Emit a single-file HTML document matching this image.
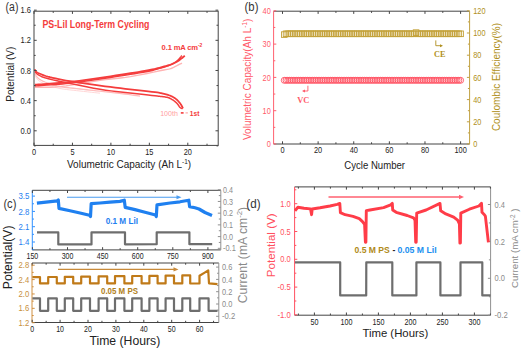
<!DOCTYPE html>
<html><head><meta charset="utf-8"><style>
html,body{margin:0;padding:0;background:#fff;}
svg{display:block;}
</style></head><body>
<svg width="524" height="349" viewBox="0 0 524 349">
<rect width="524" height="349" fill="#fff"/>
<polyline points="34.80,73.50 35.10,74.00 35.49,74.69 35.96,75.50 36.53,76.37 37.21,77.23 38.00,78.00 38.85,78.69 39.76,79.35 40.76,80.00 41.93,80.65 43.33,81.31 45.00,82.00 46.98,82.74 49.22,83.54 51.69,84.34 54.33,85.13 57.12,85.86 60.00,86.50 63.04,87.04 66.30,87.49 69.69,87.89 73.15,88.26 76.61,88.62 80.00,89.00 83.28,89.38 86.48,89.73 89.69,90.08 92.96,90.43 96.38,90.80 100.00,91.20 103.99,91.64 108.33,92.11 112.81,92.60 117.22,93.09 121.35,93.56 125.00,94.00 128.25,94.43 131.30,94.86 134.06,95.28 136.48,95.65 138.48,95.97 140.00,96.20" fill="none" stroke="#ffbcbc" stroke-width="1.3" stroke-linejoin="round" />
<polyline points="34.80,75.50 35.10,76.00 35.49,76.69 35.96,77.50 36.53,78.37 37.21,79.23 38.00,80.00 38.85,80.69 39.76,81.35 40.76,82.00 41.93,82.65 43.33,83.31 45.00,84.00 46.98,84.74 49.22,85.54 51.69,86.34 54.33,87.13 57.12,87.86 60.00,88.50 63.04,89.04 66.30,89.49 69.69,89.89 73.15,90.26 76.61,90.62 80.00,91.00 83.56,91.41 87.41,91.84 91.25,92.26 94.81,92.64 97.82,92.96 100.00,93.20" fill="none" stroke="#ffd8d8" stroke-width="1.0" stroke-linejoin="round" />
<polyline points="34.80,87.20 37.37,87.20 40.79,87.25 44.90,87.29 49.57,87.24 54.65,87.03 60.00,86.60 65.92,85.86 72.59,84.86 79.67,83.70 86.82,82.50 93.71,81.36 100.00,80.40 105.63,79.65 110.87,79.04 115.84,78.49 120.69,77.95 125.53,77.34 130.50,76.60 135.82,75.67 141.43,74.59 147.03,73.44 152.35,72.31 157.10,71.31 161.00,70.50 163.89,69.95 165.96,69.59 167.47,69.34 168.65,69.13 169.74,68.87 171.00,68.50 172.38,67.98 173.67,67.39 174.88,66.74 176.00,66.10 177.04,65.51 178.00,65.00 178.89,64.57 179.70,64.18 180.44,63.83 181.07,63.53 181.60,63.29 182.00,63.10" fill="none" stroke="#ffb4b4" stroke-width="1.4" stroke-linejoin="round" />
<polyline points="34.80,71.50 35.10,71.84 35.49,72.30 35.96,72.85 36.53,73.44 37.21,74.04 38.00,74.60 38.85,75.12 39.76,75.64 40.76,76.17 41.93,76.70 43.33,77.24 45.00,77.80 46.75,78.33 48.48,78.81 50.44,79.31 52.85,79.87 55.96,80.55 60.00,81.40 65.34,82.52 71.85,83.87 79.06,85.34 86.48,86.82 93.62,88.18 100.00,89.30 105.64,90.17 110.93,90.88 115.94,91.47 120.74,91.99 125.41,92.48 130.00,93.00 134.66,93.54 139.37,94.07 143.94,94.58 148.19,95.05 151.93,95.46 155.00,95.80 157.22,96.05 158.71,96.21 159.69,96.32 160.41,96.40 161.11,96.48 162.00,96.60 163.07,96.73 164.13,96.86 165.16,96.99 166.14,97.14 167.06,97.30 167.90,97.50 168.64,97.73 169.28,97.99 169.86,98.27 170.41,98.57 170.94,98.88 171.50,99.20 172.07,99.53 172.64,99.88 173.21,100.24 173.76,100.62 174.29,101.00 174.80,101.40 175.29,101.80 175.75,102.21 176.20,102.63 176.64,103.06 177.07,103.52 177.50,104.00 177.93,104.54 178.34,105.15 178.76,105.78 179.17,106.39 179.58,106.94 180.00,107.40 180.46,107.77 180.96,108.07 181.46,108.31 181.92,108.51 182.32,108.67 182.60,108.80" fill="none" stroke="#f43c3c" stroke-width="1.5" stroke-linejoin="round" />
<polyline points="34.80,69.20 34.90,69.45 35.01,69.80 35.15,70.21 35.35,70.65 35.62,71.09 36.00,71.50 36.44,71.87 36.90,72.23 37.45,72.58 38.12,72.95 38.95,73.35 40.00,73.80 41.20,74.30 42.52,74.83 44.00,75.39 45.70,75.98 47.69,76.59 50.00,77.20 52.64,77.83 55.56,78.47 58.75,79.14 62.22,79.81 65.97,80.50 70.00,81.20 74.42,81.92 79.26,82.66 84.38,83.41 89.63,84.16 94.88,84.90 100.00,85.60 105.06,86.28 110.19,86.95 115.31,87.60 120.37,88.23 125.29,88.83 130.00,89.40 134.66,89.94 139.37,90.47 143.94,90.96 148.19,91.42 151.93,91.84 155.00,92.20 157.22,92.49 158.70,92.71 159.69,92.88 160.41,93.04 161.10,93.20 162.00,93.40 163.07,93.63 164.11,93.86 165.12,94.09 166.11,94.34 167.07,94.61 168.00,94.90 168.91,95.21 169.79,95.54 170.65,95.89 171.47,96.25 172.26,96.62 173.00,97.00 173.69,97.39 174.35,97.80 174.96,98.22 175.54,98.65 176.09,99.08 176.60,99.50 177.08,99.92 177.51,100.34 177.91,100.76 178.28,101.17 178.64,101.59 179.00,102.00 179.34,102.39 179.66,102.75 179.97,103.11 180.27,103.49 180.58,103.91 180.90,104.40 181.26,105.01 181.66,105.73 182.07,106.50 182.45,107.23 182.77,107.86 183.00,108.30" fill="none" stroke="#f43c3c" stroke-width="1.75" stroke-linejoin="round" />
<polyline points="34.80,86.00 36.40,85.89 38.56,85.74 41.15,85.56 44.01,85.35 47.01,85.13 50.00,84.90 52.94,84.68 55.94,84.47 59.08,84.24 62.41,83.97 66.03,83.63 70.00,83.20 74.42,82.65 79.24,82.00 84.34,81.28 89.59,80.52 94.86,79.75 100.00,79.00 105.18,78.24 110.54,77.45 115.91,76.65 121.13,75.86 126.05,75.10 130.50,74.40 134.48,73.76 138.13,73.16 141.47,72.60 144.54,72.06 147.37,71.53 150.00,71.00 152.37,70.47 154.44,69.94 156.28,69.43 157.94,68.93 159.50,68.45 161.00,68.00 162.41,67.59 163.67,67.23 164.81,66.89 165.89,66.55 166.94,66.19 168.00,65.80 169.08,65.38 170.13,64.94 171.16,64.48 172.15,64.01 173.10,63.51 174.00,63.00 174.85,62.46 175.66,61.90 176.42,61.33 177.14,60.73 177.84,60.12 178.50,59.50 179.16,58.82 179.81,58.06 180.43,57.28 180.99,56.56 181.45,55.94 181.80,55.50" fill="none" stroke="#f43c3c" stroke-width="1.4" stroke-linejoin="round" />
<polyline points="34.80,84.80 36.40,84.69 38.56,84.54 41.15,84.36 44.01,84.15 47.01,83.93 50.00,83.70 52.94,83.48 55.94,83.27 59.08,83.04 62.41,82.77 66.03,82.43 70.00,82.00 74.42,81.46 79.24,80.83 84.34,80.13 89.59,79.39 94.86,78.64 100.00,77.90 105.18,77.15 110.54,76.36 115.91,75.55 121.13,74.76 126.05,74.00 130.50,73.30 134.48,72.67 138.13,72.08 141.47,71.52 144.54,71.00 147.37,70.49 150.00,70.00 152.35,69.53 154.37,69.08 156.16,68.66 157.80,68.24 159.38,67.83 161.00,67.40 162.65,66.97 164.24,66.54 165.79,66.11 167.27,65.68 168.67,65.24 170.00,64.80 171.24,64.35 172.39,63.90 173.48,63.44 174.50,62.97 175.47,62.49 176.40,62.00 177.28,61.49 178.10,60.96 178.86,60.41 179.59,59.87 180.30,59.33 181.00,58.80 181.72,58.25 182.47,57.67 183.19,57.10 183.84,56.57 184.40,56.12 184.80,55.80" fill="none" stroke="#f43c3c" stroke-width="1.9" stroke-linejoin="round" />
<rect x="34.0" y="11.2" width="184.2" height="134.20000000000002" fill="none" stroke="#444444" stroke-width="1"/>
<line x1="34.00" y1="145.40" x2="34.00" y2="142.70" stroke="#444444" stroke-width="1"/>
<line x1="34.00" y1="11.20" x2="34.00" y2="13.90" stroke="#444444" stroke-width="1"/>
<line x1="53.23" y1="145.40" x2="53.23" y2="143.70" stroke="#444444" stroke-width="1"/>
<line x1="53.23" y1="11.20" x2="53.23" y2="12.90" stroke="#444444" stroke-width="1"/>
<line x1="72.45" y1="145.40" x2="72.45" y2="142.70" stroke="#444444" stroke-width="1"/>
<line x1="72.45" y1="11.20" x2="72.45" y2="13.90" stroke="#444444" stroke-width="1"/>
<line x1="91.68" y1="145.40" x2="91.68" y2="143.70" stroke="#444444" stroke-width="1"/>
<line x1="91.68" y1="11.20" x2="91.68" y2="12.90" stroke="#444444" stroke-width="1"/>
<line x1="110.90" y1="145.40" x2="110.90" y2="142.70" stroke="#444444" stroke-width="1"/>
<line x1="110.90" y1="11.20" x2="110.90" y2="13.90" stroke="#444444" stroke-width="1"/>
<line x1="130.12" y1="145.40" x2="130.12" y2="143.70" stroke="#444444" stroke-width="1"/>
<line x1="130.12" y1="11.20" x2="130.12" y2="12.90" stroke="#444444" stroke-width="1"/>
<line x1="149.35" y1="145.40" x2="149.35" y2="142.70" stroke="#444444" stroke-width="1"/>
<line x1="149.35" y1="11.20" x2="149.35" y2="13.90" stroke="#444444" stroke-width="1"/>
<line x1="168.58" y1="145.40" x2="168.58" y2="143.70" stroke="#444444" stroke-width="1"/>
<line x1="168.58" y1="11.20" x2="168.58" y2="12.90" stroke="#444444" stroke-width="1"/>
<line x1="187.80" y1="145.40" x2="187.80" y2="142.70" stroke="#444444" stroke-width="1"/>
<line x1="187.80" y1="11.20" x2="187.80" y2="13.90" stroke="#444444" stroke-width="1"/>
<line x1="207.03" y1="145.40" x2="207.03" y2="143.70" stroke="#444444" stroke-width="1"/>
<line x1="207.03" y1="11.20" x2="207.03" y2="12.90" stroke="#444444" stroke-width="1"/>
<line x1="34.00" y1="145.88" x2="35.70" y2="145.88" stroke="#444444" stroke-width="1"/>
<line x1="218.20" y1="145.88" x2="216.50" y2="145.88" stroke="#444444" stroke-width="1"/>
<line x1="34.00" y1="130.80" x2="36.70" y2="130.80" stroke="#444444" stroke-width="1"/>
<line x1="218.20" y1="130.80" x2="215.50" y2="130.80" stroke="#444444" stroke-width="1"/>
<line x1="34.00" y1="115.72" x2="35.70" y2="115.72" stroke="#444444" stroke-width="1"/>
<line x1="218.20" y1="115.72" x2="216.50" y2="115.72" stroke="#444444" stroke-width="1"/>
<line x1="34.00" y1="100.64" x2="36.70" y2="100.64" stroke="#444444" stroke-width="1"/>
<line x1="218.20" y1="100.64" x2="215.50" y2="100.64" stroke="#444444" stroke-width="1"/>
<line x1="34.00" y1="85.56" x2="35.70" y2="85.56" stroke="#444444" stroke-width="1"/>
<line x1="218.20" y1="85.56" x2="216.50" y2="85.56" stroke="#444444" stroke-width="1"/>
<line x1="34.00" y1="70.48" x2="36.70" y2="70.48" stroke="#444444" stroke-width="1"/>
<line x1="218.20" y1="70.48" x2="215.50" y2="70.48" stroke="#444444" stroke-width="1"/>
<line x1="34.00" y1="55.40" x2="35.70" y2="55.40" stroke="#444444" stroke-width="1"/>
<line x1="218.20" y1="55.40" x2="216.50" y2="55.40" stroke="#444444" stroke-width="1"/>
<line x1="34.00" y1="40.32" x2="36.70" y2="40.32" stroke="#444444" stroke-width="1"/>
<line x1="218.20" y1="40.32" x2="215.50" y2="40.32" stroke="#444444" stroke-width="1"/>
<line x1="34.00" y1="25.24" x2="35.70" y2="25.24" stroke="#444444" stroke-width="1"/>
<line x1="218.20" y1="25.24" x2="216.50" y2="25.24" stroke="#444444" stroke-width="1"/>
<line x1="34.00" y1="10.16" x2="36.70" y2="10.16" stroke="#444444" stroke-width="1"/>
<line x1="218.20" y1="10.16" x2="215.50" y2="10.16" stroke="#444444" stroke-width="1"/>
<text x="31.00" y="13.26" font-size="9.0" fill="#222" text-anchor="end" font-weight="normal" font-family='"Liberation Sans", sans-serif' textLength="10.5" lengthAdjust="spacingAndGlyphs" >1.6</text>
<text x="31.00" y="43.42" font-size="9.0" fill="#222" text-anchor="end" font-weight="normal" font-family='"Liberation Sans", sans-serif' textLength="10.5" lengthAdjust="spacingAndGlyphs" >1.2</text>
<text x="31.00" y="73.58" font-size="9.0" fill="#222" text-anchor="end" font-weight="normal" font-family='"Liberation Sans", sans-serif' textLength="10.5" lengthAdjust="spacingAndGlyphs" >0.8</text>
<text x="31.00" y="103.74" font-size="9.0" fill="#222" text-anchor="end" font-weight="normal" font-family='"Liberation Sans", sans-serif' textLength="10.5" lengthAdjust="spacingAndGlyphs" >0.4</text>
<text x="31.00" y="133.90" font-size="9.0" fill="#222" text-anchor="end" font-weight="normal" font-family='"Liberation Sans", sans-serif' textLength="10.5" lengthAdjust="spacingAndGlyphs" >0.0</text>
<text x="34.00" y="155.00" font-size="9.0" fill="#222" text-anchor="middle" font-weight="normal" font-family='"Liberation Sans", sans-serif' textLength="4.1" lengthAdjust="spacingAndGlyphs" >0</text>
<text x="72.45" y="155.00" font-size="9.0" fill="#222" text-anchor="middle" font-weight="normal" font-family='"Liberation Sans", sans-serif' textLength="4.1" lengthAdjust="spacingAndGlyphs" >5</text>
<text x="110.90" y="155.00" font-size="9.0" fill="#222" text-anchor="middle" font-weight="normal" font-family='"Liberation Sans", sans-serif' textLength="8.2" lengthAdjust="spacingAndGlyphs" >10</text>
<text x="149.35" y="155.00" font-size="9.0" fill="#222" text-anchor="middle" font-weight="normal" font-family='"Liberation Sans", sans-serif' textLength="8.2" lengthAdjust="spacingAndGlyphs" >15</text>
<text x="187.80" y="155.00" font-size="9.0" fill="#222" text-anchor="middle" font-weight="normal" font-family='"Liberation Sans", sans-serif' textLength="8.2" lengthAdjust="spacingAndGlyphs" >20</text>
<text x="67.00" y="168.20" font-size="10" fill="#222" text-anchor="start" font-weight="normal" font-family='"Liberation Sans", sans-serif' >Volumetric Capacity (Ah L<tspan dy="-4" font-size="6.5">-1</tspan><tspan dy="4">)</tspan></text>
<text x="13.80" y="74.20" font-size="10" fill="#222" text-anchor="middle" font-weight="normal" font-family='"Liberation Sans", sans-serif' transform="rotate(-90 13.80 74.20)" >Potential (V)</text>
<text x="5.60" y="10.90" font-size="12.5" fill="#333" text-anchor="start" font-weight="normal" font-family='"Liberation Sans", sans-serif' textLength="12.8" lengthAdjust="spacingAndGlyphs" >(a)</text>
<text x="42.40" y="27.80" font-size="10.2" fill="#f43c3c" text-anchor="start" font-weight="bold" font-family='"Liberation Sans", sans-serif' textLength="107" lengthAdjust="spacingAndGlyphs" >PS-LiI Long-Term Cycling</text>
<text x="161.60" y="49.80" font-size="7.6" fill="#f43c3c" text-anchor="start" font-weight="bold" font-family='"Liberation Sans", sans-serif' letter-spacing="-0.15">0.1 mA cm<tspan dy="-3" font-size="5">-2</tspan></text>
<text x="160.20" y="115.50" font-size="7.6" fill="#ffa0a0" text-anchor="start" font-weight="normal" font-family='"Liberation Sans", sans-serif' textLength="17.7" lengthAdjust="spacingAndGlyphs" >100th</text>
<line x1="180.80" y1="112.90" x2="183.60" y2="112.90" stroke="#f43c3c" stroke-width="1.6"/>
<line x1="185.50" y1="112.90" x2="187.90" y2="112.90" stroke="#ffa0a0" stroke-width="1.1"/>
<text x="189.80" y="115.50" font-size="7.8" fill="#f43c3c" text-anchor="start" font-weight="bold" font-family='"Liberation Sans", sans-serif' textLength="9.6" lengthAdjust="spacingAndGlyphs" >1st</text>
<line x1="273.60" y1="11.20" x2="469.60" y2="11.20" stroke="#444444" stroke-width="1"/>
<line x1="273.60" y1="144.00" x2="469.60" y2="144.00" stroke="#444444" stroke-width="1"/>
<line x1="273.60" y1="11.20" x2="273.60" y2="144.00" stroke="#ff6070" stroke-width="1"/>
<line x1="469.60" y1="11.20" x2="469.60" y2="144.00" stroke="#c0a040" stroke-width="1"/>
<line x1="282.50" y1="144.00" x2="282.50" y2="141.30" stroke="#444444" stroke-width="1"/>
<line x1="282.50" y1="11.20" x2="282.50" y2="13.90" stroke="#444444" stroke-width="1"/>
<line x1="300.31" y1="144.00" x2="300.31" y2="142.30" stroke="#444444" stroke-width="1"/>
<line x1="300.31" y1="11.20" x2="300.31" y2="12.90" stroke="#444444" stroke-width="1"/>
<line x1="318.12" y1="144.00" x2="318.12" y2="141.30" stroke="#444444" stroke-width="1"/>
<line x1="318.12" y1="11.20" x2="318.12" y2="13.90" stroke="#444444" stroke-width="1"/>
<line x1="335.93" y1="144.00" x2="335.93" y2="142.30" stroke="#444444" stroke-width="1"/>
<line x1="335.93" y1="11.20" x2="335.93" y2="12.90" stroke="#444444" stroke-width="1"/>
<line x1="353.74" y1="144.00" x2="353.74" y2="141.30" stroke="#444444" stroke-width="1"/>
<line x1="353.74" y1="11.20" x2="353.74" y2="13.90" stroke="#444444" stroke-width="1"/>
<line x1="371.55" y1="144.00" x2="371.55" y2="142.30" stroke="#444444" stroke-width="1"/>
<line x1="371.55" y1="11.20" x2="371.55" y2="12.90" stroke="#444444" stroke-width="1"/>
<line x1="389.36" y1="144.00" x2="389.36" y2="141.30" stroke="#444444" stroke-width="1"/>
<line x1="389.36" y1="11.20" x2="389.36" y2="13.90" stroke="#444444" stroke-width="1"/>
<line x1="407.17" y1="144.00" x2="407.17" y2="142.30" stroke="#444444" stroke-width="1"/>
<line x1="407.17" y1="11.20" x2="407.17" y2="12.90" stroke="#444444" stroke-width="1"/>
<line x1="424.98" y1="144.00" x2="424.98" y2="141.30" stroke="#444444" stroke-width="1"/>
<line x1="424.98" y1="11.20" x2="424.98" y2="13.90" stroke="#444444" stroke-width="1"/>
<line x1="442.79" y1="144.00" x2="442.79" y2="142.30" stroke="#444444" stroke-width="1"/>
<line x1="442.79" y1="11.20" x2="442.79" y2="12.90" stroke="#444444" stroke-width="1"/>
<line x1="460.60" y1="144.00" x2="460.60" y2="141.30" stroke="#444444" stroke-width="1"/>
<line x1="460.60" y1="11.20" x2="460.60" y2="13.90" stroke="#444444" stroke-width="1"/>
<line x1="273.60" y1="144.00" x2="276.30" y2="144.00" stroke="#ff6070" stroke-width="1"/>
<line x1="273.60" y1="127.35" x2="275.30" y2="127.35" stroke="#ff6070" stroke-width="1"/>
<line x1="273.60" y1="110.70" x2="276.30" y2="110.70" stroke="#ff6070" stroke-width="1"/>
<line x1="273.60" y1="94.05" x2="275.30" y2="94.05" stroke="#ff6070" stroke-width="1"/>
<line x1="273.60" y1="77.40" x2="276.30" y2="77.40" stroke="#ff6070" stroke-width="1"/>
<line x1="273.60" y1="60.75" x2="275.30" y2="60.75" stroke="#ff6070" stroke-width="1"/>
<line x1="273.60" y1="44.10" x2="276.30" y2="44.10" stroke="#ff6070" stroke-width="1"/>
<line x1="273.60" y1="27.45" x2="275.30" y2="27.45" stroke="#ff6070" stroke-width="1"/>
<line x1="273.60" y1="10.80" x2="276.30" y2="10.80" stroke="#ff6070" stroke-width="1"/>
<line x1="469.60" y1="144.00" x2="466.90" y2="144.00" stroke="#c0a040" stroke-width="1"/>
<line x1="469.60" y1="132.90" x2="467.90" y2="132.90" stroke="#c0a040" stroke-width="1"/>
<line x1="469.60" y1="121.80" x2="466.90" y2="121.80" stroke="#c0a040" stroke-width="1"/>
<line x1="469.60" y1="110.70" x2="467.90" y2="110.70" stroke="#c0a040" stroke-width="1"/>
<line x1="469.60" y1="99.60" x2="466.90" y2="99.60" stroke="#c0a040" stroke-width="1"/>
<line x1="469.60" y1="88.50" x2="467.90" y2="88.50" stroke="#c0a040" stroke-width="1"/>
<line x1="469.60" y1="77.40" x2="466.90" y2="77.40" stroke="#c0a040" stroke-width="1"/>
<line x1="469.60" y1="66.30" x2="467.90" y2="66.30" stroke="#c0a040" stroke-width="1"/>
<line x1="469.60" y1="55.20" x2="466.90" y2="55.20" stroke="#c0a040" stroke-width="1"/>
<line x1="469.60" y1="44.10" x2="467.90" y2="44.10" stroke="#c0a040" stroke-width="1"/>
<line x1="469.60" y1="33.00" x2="466.90" y2="33.00" stroke="#c0a040" stroke-width="1"/>
<line x1="469.60" y1="21.90" x2="467.90" y2="21.90" stroke="#c0a040" stroke-width="1"/>
<line x1="469.60" y1="10.80" x2="466.90" y2="10.80" stroke="#c0a040" stroke-width="1"/>
<text x="270.80" y="147.20" font-size="9.0" fill="#ff5a6a" text-anchor="end" font-weight="normal" font-family='"Liberation Sans", sans-serif' textLength="4.1" lengthAdjust="spacingAndGlyphs" >0</text>
<text x="270.80" y="113.90" font-size="9.0" fill="#ff5a6a" text-anchor="end" font-weight="normal" font-family='"Liberation Sans", sans-serif' textLength="8.2" lengthAdjust="spacingAndGlyphs" >10</text>
<text x="270.80" y="80.60" font-size="9.0" fill="#ff5a6a" text-anchor="end" font-weight="normal" font-family='"Liberation Sans", sans-serif' textLength="8.2" lengthAdjust="spacingAndGlyphs" >20</text>
<text x="270.80" y="47.30" font-size="9.0" fill="#ff5a6a" text-anchor="end" font-weight="normal" font-family='"Liberation Sans", sans-serif' textLength="8.2" lengthAdjust="spacingAndGlyphs" >30</text>
<text x="270.80" y="14.00" font-size="9.0" fill="#ff5a6a" text-anchor="end" font-weight="normal" font-family='"Liberation Sans", sans-serif' textLength="8.2" lengthAdjust="spacingAndGlyphs" >40</text>
<text x="473.20" y="147.20" font-size="9.0" fill="#b09020" text-anchor="start" font-weight="normal" font-family='"Liberation Sans", sans-serif' textLength="4.1" lengthAdjust="spacingAndGlyphs" >0</text>
<text x="473.20" y="125.00" font-size="9.0" fill="#b09020" text-anchor="start" font-weight="normal" font-family='"Liberation Sans", sans-serif' textLength="8.2" lengthAdjust="spacingAndGlyphs" >20</text>
<text x="473.20" y="102.80" font-size="9.0" fill="#b09020" text-anchor="start" font-weight="normal" font-family='"Liberation Sans", sans-serif' textLength="8.2" lengthAdjust="spacingAndGlyphs" >40</text>
<text x="473.20" y="80.60" font-size="9.0" fill="#b09020" text-anchor="start" font-weight="normal" font-family='"Liberation Sans", sans-serif' textLength="8.2" lengthAdjust="spacingAndGlyphs" >60</text>
<text x="473.20" y="58.40" font-size="9.0" fill="#b09020" text-anchor="start" font-weight="normal" font-family='"Liberation Sans", sans-serif' textLength="8.2" lengthAdjust="spacingAndGlyphs" >80</text>
<text x="473.20" y="36.20" font-size="9.0" fill="#b09020" text-anchor="start" font-weight="normal" font-family='"Liberation Sans", sans-serif' textLength="12.3" lengthAdjust="spacingAndGlyphs" >100</text>
<text x="473.20" y="14.00" font-size="9.0" fill="#b09020" text-anchor="start" font-weight="normal" font-family='"Liberation Sans", sans-serif' textLength="12.3" lengthAdjust="spacingAndGlyphs" >120</text>
<text x="282.50" y="153.40" font-size="9.0" fill="#222" text-anchor="middle" font-weight="normal" font-family='"Liberation Sans", sans-serif' textLength="4.1" lengthAdjust="spacingAndGlyphs" >0</text>
<text x="318.12" y="153.40" font-size="9.0" fill="#222" text-anchor="middle" font-weight="normal" font-family='"Liberation Sans", sans-serif' textLength="8.2" lengthAdjust="spacingAndGlyphs" >20</text>
<text x="353.74" y="153.40" font-size="9.0" fill="#222" text-anchor="middle" font-weight="normal" font-family='"Liberation Sans", sans-serif' textLength="8.2" lengthAdjust="spacingAndGlyphs" >40</text>
<text x="389.36" y="153.40" font-size="9.0" fill="#222" text-anchor="middle" font-weight="normal" font-family='"Liberation Sans", sans-serif' textLength="8.2" lengthAdjust="spacingAndGlyphs" >60</text>
<text x="424.98" y="153.40" font-size="9.0" fill="#222" text-anchor="middle" font-weight="normal" font-family='"Liberation Sans", sans-serif' textLength="8.2" lengthAdjust="spacingAndGlyphs" >80</text>
<text x="460.60" y="153.40" font-size="9.0" fill="#222" text-anchor="middle" font-weight="normal" font-family='"Liberation Sans", sans-serif' textLength="12.3" lengthAdjust="spacingAndGlyphs" >100</text>
<rect x="281.48" y="31.80" width="5.6" height="5.6" fill="none" stroke="#c4a23a" stroke-width="0.9"/>
<rect x="283.26" y="31.00" width="5.6" height="5.6" fill="none" stroke="#c4a23a" stroke-width="0.9"/>
<rect x="285.04" y="31.00" width="5.6" height="5.6" fill="none" stroke="#c4a23a" stroke-width="0.9"/>
<rect x="286.82" y="31.00" width="5.6" height="5.6" fill="none" stroke="#c4a23a" stroke-width="0.9"/>
<rect x="288.60" y="31.00" width="5.6" height="5.6" fill="none" stroke="#c4a23a" stroke-width="0.9"/>
<rect x="290.39" y="31.00" width="5.6" height="5.6" fill="none" stroke="#c4a23a" stroke-width="0.9"/>
<rect x="292.17" y="31.00" width="5.6" height="5.6" fill="none" stroke="#c4a23a" stroke-width="0.9"/>
<rect x="293.95" y="31.00" width="5.6" height="5.6" fill="none" stroke="#c4a23a" stroke-width="0.9"/>
<rect x="295.73" y="31.00" width="5.6" height="5.6" fill="none" stroke="#c4a23a" stroke-width="0.9"/>
<rect x="297.51" y="31.00" width="5.6" height="5.6" fill="none" stroke="#c4a23a" stroke-width="0.9"/>
<rect x="299.29" y="31.00" width="5.6" height="5.6" fill="none" stroke="#c4a23a" stroke-width="0.9"/>
<rect x="301.07" y="31.00" width="5.6" height="5.6" fill="none" stroke="#c4a23a" stroke-width="0.9"/>
<rect x="302.85" y="31.00" width="5.6" height="5.6" fill="none" stroke="#c4a23a" stroke-width="0.9"/>
<rect x="304.63" y="31.00" width="5.6" height="5.6" fill="none" stroke="#c4a23a" stroke-width="0.9"/>
<rect x="306.41" y="31.00" width="5.6" height="5.6" fill="none" stroke="#c4a23a" stroke-width="0.9"/>
<rect x="308.20" y="31.00" width="5.6" height="5.6" fill="none" stroke="#c4a23a" stroke-width="0.9"/>
<rect x="309.98" y="31.00" width="5.6" height="5.6" fill="none" stroke="#c4a23a" stroke-width="0.9"/>
<rect x="311.76" y="31.00" width="5.6" height="5.6" fill="none" stroke="#c4a23a" stroke-width="0.9"/>
<rect x="313.54" y="31.00" width="5.6" height="5.6" fill="none" stroke="#c4a23a" stroke-width="0.9"/>
<rect x="315.32" y="31.00" width="5.6" height="5.6" fill="none" stroke="#c4a23a" stroke-width="0.9"/>
<rect x="317.10" y="31.00" width="5.6" height="5.6" fill="none" stroke="#c4a23a" stroke-width="0.9"/>
<rect x="318.88" y="31.00" width="5.6" height="5.6" fill="none" stroke="#c4a23a" stroke-width="0.9"/>
<rect x="320.66" y="31.00" width="5.6" height="5.6" fill="none" stroke="#c4a23a" stroke-width="0.9"/>
<rect x="322.44" y="31.00" width="5.6" height="5.6" fill="none" stroke="#c4a23a" stroke-width="0.9"/>
<rect x="324.22" y="31.00" width="5.6" height="5.6" fill="none" stroke="#c4a23a" stroke-width="0.9"/>
<rect x="326.01" y="31.00" width="5.6" height="5.6" fill="none" stroke="#c4a23a" stroke-width="0.9"/>
<rect x="327.79" y="31.00" width="5.6" height="5.6" fill="none" stroke="#c4a23a" stroke-width="0.9"/>
<rect x="329.57" y="31.00" width="5.6" height="5.6" fill="none" stroke="#c4a23a" stroke-width="0.9"/>
<rect x="331.35" y="31.00" width="5.6" height="5.6" fill="none" stroke="#c4a23a" stroke-width="0.9"/>
<rect x="333.13" y="31.00" width="5.6" height="5.6" fill="none" stroke="#c4a23a" stroke-width="0.9"/>
<rect x="334.91" y="31.00" width="5.6" height="5.6" fill="none" stroke="#c4a23a" stroke-width="0.9"/>
<rect x="336.69" y="31.00" width="5.6" height="5.6" fill="none" stroke="#c4a23a" stroke-width="0.9"/>
<rect x="338.47" y="31.00" width="5.6" height="5.6" fill="none" stroke="#c4a23a" stroke-width="0.9"/>
<rect x="340.25" y="31.00" width="5.6" height="5.6" fill="none" stroke="#c4a23a" stroke-width="0.9"/>
<rect x="342.03" y="31.00" width="5.6" height="5.6" fill="none" stroke="#c4a23a" stroke-width="0.9"/>
<rect x="343.82" y="31.00" width="5.6" height="5.6" fill="none" stroke="#c4a23a" stroke-width="0.9"/>
<rect x="345.60" y="31.00" width="5.6" height="5.6" fill="none" stroke="#c4a23a" stroke-width="0.9"/>
<rect x="347.38" y="31.00" width="5.6" height="5.6" fill="none" stroke="#c4a23a" stroke-width="0.9"/>
<rect x="349.16" y="31.00" width="5.6" height="5.6" fill="none" stroke="#c4a23a" stroke-width="0.9"/>
<rect x="350.94" y="31.00" width="5.6" height="5.6" fill="none" stroke="#c4a23a" stroke-width="0.9"/>
<rect x="352.72" y="31.00" width="5.6" height="5.6" fill="none" stroke="#c4a23a" stroke-width="0.9"/>
<rect x="354.50" y="31.00" width="5.6" height="5.6" fill="none" stroke="#c4a23a" stroke-width="0.9"/>
<rect x="356.28" y="31.00" width="5.6" height="5.6" fill="none" stroke="#c4a23a" stroke-width="0.9"/>
<rect x="358.06" y="31.00" width="5.6" height="5.6" fill="none" stroke="#c4a23a" stroke-width="0.9"/>
<rect x="359.84" y="31.00" width="5.6" height="5.6" fill="none" stroke="#c4a23a" stroke-width="0.9"/>
<rect x="361.63" y="31.00" width="5.6" height="5.6" fill="none" stroke="#c4a23a" stroke-width="0.9"/>
<rect x="363.41" y="31.00" width="5.6" height="5.6" fill="none" stroke="#c4a23a" stroke-width="0.9"/>
<rect x="365.19" y="31.00" width="5.6" height="5.6" fill="none" stroke="#c4a23a" stroke-width="0.9"/>
<rect x="366.97" y="31.00" width="5.6" height="5.6" fill="none" stroke="#c4a23a" stroke-width="0.9"/>
<rect x="368.75" y="31.00" width="5.6" height="5.6" fill="none" stroke="#c4a23a" stroke-width="0.9"/>
<rect x="370.53" y="31.00" width="5.6" height="5.6" fill="none" stroke="#c4a23a" stroke-width="0.9"/>
<rect x="372.31" y="31.00" width="5.6" height="5.6" fill="none" stroke="#c4a23a" stroke-width="0.9"/>
<rect x="374.09" y="31.00" width="5.6" height="5.6" fill="none" stroke="#c4a23a" stroke-width="0.9"/>
<rect x="375.87" y="31.00" width="5.6" height="5.6" fill="none" stroke="#c4a23a" stroke-width="0.9"/>
<rect x="377.65" y="31.00" width="5.6" height="5.6" fill="none" stroke="#c4a23a" stroke-width="0.9"/>
<rect x="379.44" y="31.00" width="5.6" height="5.6" fill="none" stroke="#c4a23a" stroke-width="0.9"/>
<rect x="381.22" y="31.00" width="5.6" height="5.6" fill="none" stroke="#c4a23a" stroke-width="0.9"/>
<rect x="383.00" y="31.00" width="5.6" height="5.6" fill="none" stroke="#c4a23a" stroke-width="0.9"/>
<rect x="384.78" y="31.00" width="5.6" height="5.6" fill="none" stroke="#c4a23a" stroke-width="0.9"/>
<rect x="386.56" y="31.00" width="5.6" height="5.6" fill="none" stroke="#c4a23a" stroke-width="0.9"/>
<rect x="388.34" y="31.00" width="5.6" height="5.6" fill="none" stroke="#c4a23a" stroke-width="0.9"/>
<rect x="390.12" y="31.00" width="5.6" height="5.6" fill="none" stroke="#c4a23a" stroke-width="0.9"/>
<rect x="391.90" y="31.00" width="5.6" height="5.6" fill="none" stroke="#c4a23a" stroke-width="0.9"/>
<rect x="393.68" y="31.00" width="5.6" height="5.6" fill="none" stroke="#c4a23a" stroke-width="0.9"/>
<rect x="395.46" y="31.00" width="5.6" height="5.6" fill="none" stroke="#c4a23a" stroke-width="0.9"/>
<rect x="397.25" y="31.00" width="5.6" height="5.6" fill="none" stroke="#c4a23a" stroke-width="0.9"/>
<rect x="399.03" y="31.00" width="5.6" height="5.6" fill="none" stroke="#c4a23a" stroke-width="0.9"/>
<rect x="400.81" y="31.00" width="5.6" height="5.6" fill="none" stroke="#c4a23a" stroke-width="0.9"/>
<rect x="402.59" y="31.00" width="5.6" height="5.6" fill="none" stroke="#c4a23a" stroke-width="0.9"/>
<rect x="404.37" y="31.00" width="5.6" height="5.6" fill="none" stroke="#c4a23a" stroke-width="0.9"/>
<rect x="406.15" y="31.00" width="5.6" height="5.6" fill="none" stroke="#c4a23a" stroke-width="0.9"/>
<rect x="407.93" y="31.00" width="5.6" height="5.6" fill="none" stroke="#c4a23a" stroke-width="0.9"/>
<rect x="409.71" y="31.00" width="5.6" height="5.6" fill="none" stroke="#c4a23a" stroke-width="0.9"/>
<rect x="411.49" y="31.00" width="5.6" height="5.6" fill="none" stroke="#c4a23a" stroke-width="0.9"/>
<rect x="413.27" y="29.80" width="5.6" height="5.6" fill="none" stroke="#c4a23a" stroke-width="0.9"/>
<rect x="415.06" y="31.00" width="5.6" height="5.6" fill="none" stroke="#c4a23a" stroke-width="0.9"/>
<rect x="416.84" y="31.00" width="5.6" height="5.6" fill="none" stroke="#c4a23a" stroke-width="0.9"/>
<rect x="418.62" y="31.00" width="5.6" height="5.6" fill="none" stroke="#c4a23a" stroke-width="0.9"/>
<rect x="420.40" y="31.00" width="5.6" height="5.6" fill="none" stroke="#c4a23a" stroke-width="0.9"/>
<rect x="422.18" y="31.00" width="5.6" height="5.6" fill="none" stroke="#c4a23a" stroke-width="0.9"/>
<rect x="423.96" y="31.00" width="5.6" height="5.6" fill="none" stroke="#c4a23a" stroke-width="0.9"/>
<rect x="425.74" y="31.00" width="5.6" height="5.6" fill="none" stroke="#c4a23a" stroke-width="0.9"/>
<rect x="427.52" y="31.00" width="5.6" height="5.6" fill="none" stroke="#c4a23a" stroke-width="0.9"/>
<rect x="429.30" y="31.00" width="5.6" height="5.6" fill="none" stroke="#c4a23a" stroke-width="0.9"/>
<rect x="431.08" y="31.00" width="5.6" height="5.6" fill="none" stroke="#c4a23a" stroke-width="0.9"/>
<rect x="432.87" y="31.00" width="5.6" height="5.6" fill="none" stroke="#c4a23a" stroke-width="0.9"/>
<rect x="434.65" y="31.00" width="5.6" height="5.6" fill="none" stroke="#c4a23a" stroke-width="0.9"/>
<rect x="436.43" y="31.00" width="5.6" height="5.6" fill="none" stroke="#c4a23a" stroke-width="0.9"/>
<rect x="438.21" y="31.00" width="5.6" height="5.6" fill="none" stroke="#c4a23a" stroke-width="0.9"/>
<rect x="439.99" y="31.00" width="5.6" height="5.6" fill="none" stroke="#c4a23a" stroke-width="0.9"/>
<rect x="441.77" y="31.00" width="5.6" height="5.6" fill="none" stroke="#c4a23a" stroke-width="0.9"/>
<rect x="443.55" y="31.00" width="5.6" height="5.6" fill="none" stroke="#c4a23a" stroke-width="0.9"/>
<rect x="445.33" y="31.00" width="5.6" height="5.6" fill="none" stroke="#c4a23a" stroke-width="0.9"/>
<rect x="447.11" y="31.00" width="5.6" height="5.6" fill="none" stroke="#c4a23a" stroke-width="0.9"/>
<rect x="448.89" y="31.00" width="5.6" height="5.6" fill="none" stroke="#c4a23a" stroke-width="0.9"/>
<rect x="450.68" y="31.00" width="5.6" height="5.6" fill="none" stroke="#c4a23a" stroke-width="0.9"/>
<rect x="452.46" y="31.00" width="5.6" height="5.6" fill="none" stroke="#c4a23a" stroke-width="0.9"/>
<rect x="454.24" y="31.00" width="5.6" height="5.6" fill="none" stroke="#c4a23a" stroke-width="0.9"/>
<rect x="456.02" y="31.00" width="5.6" height="5.6" fill="none" stroke="#c4a23a" stroke-width="0.9"/>
<rect x="457.80" y="31.00" width="5.6" height="5.6" fill="none" stroke="#c4a23a" stroke-width="0.9"/>
<circle cx="284.28" cy="80.3" r="3.0" fill="none" stroke="#ff5464" stroke-width="0.9"/>
<circle cx="286.06" cy="80.3" r="3.0" fill="none" stroke="#ff5464" stroke-width="0.9"/>
<circle cx="287.84" cy="80.3" r="3.0" fill="none" stroke="#ff5464" stroke-width="0.9"/>
<circle cx="289.62" cy="80.3" r="3.0" fill="none" stroke="#ff5464" stroke-width="0.9"/>
<circle cx="291.40" cy="80.3" r="3.0" fill="none" stroke="#ff5464" stroke-width="0.9"/>
<circle cx="293.19" cy="80.3" r="3.0" fill="none" stroke="#ff5464" stroke-width="0.9"/>
<circle cx="294.97" cy="80.3" r="3.0" fill="none" stroke="#ff5464" stroke-width="0.9"/>
<circle cx="296.75" cy="80.3" r="3.0" fill="none" stroke="#ff5464" stroke-width="0.9"/>
<circle cx="298.53" cy="80.3" r="3.0" fill="none" stroke="#ff5464" stroke-width="0.9"/>
<circle cx="300.31" cy="80.3" r="3.0" fill="none" stroke="#ff5464" stroke-width="0.9"/>
<circle cx="302.09" cy="80.3" r="3.0" fill="none" stroke="#ff5464" stroke-width="0.9"/>
<circle cx="303.87" cy="80.3" r="3.0" fill="none" stroke="#ff5464" stroke-width="0.9"/>
<circle cx="305.65" cy="80.3" r="3.0" fill="none" stroke="#ff5464" stroke-width="0.9"/>
<circle cx="307.43" cy="80.3" r="3.0" fill="none" stroke="#ff5464" stroke-width="0.9"/>
<circle cx="309.21" cy="80.3" r="3.0" fill="none" stroke="#ff5464" stroke-width="0.9"/>
<circle cx="311.00" cy="80.3" r="3.0" fill="none" stroke="#ff5464" stroke-width="0.9"/>
<circle cx="312.78" cy="80.3" r="3.0" fill="none" stroke="#ff5464" stroke-width="0.9"/>
<circle cx="314.56" cy="80.3" r="3.0" fill="none" stroke="#ff5464" stroke-width="0.9"/>
<circle cx="316.34" cy="80.3" r="3.0" fill="none" stroke="#ff5464" stroke-width="0.9"/>
<circle cx="318.12" cy="80.3" r="3.0" fill="none" stroke="#ff5464" stroke-width="0.9"/>
<circle cx="319.90" cy="80.3" r="3.0" fill="none" stroke="#ff5464" stroke-width="0.9"/>
<circle cx="321.68" cy="80.3" r="3.0" fill="none" stroke="#ff5464" stroke-width="0.9"/>
<circle cx="323.46" cy="80.3" r="3.0" fill="none" stroke="#ff5464" stroke-width="0.9"/>
<circle cx="325.24" cy="80.3" r="3.0" fill="none" stroke="#ff5464" stroke-width="0.9"/>
<circle cx="327.02" cy="80.3" r="3.0" fill="none" stroke="#ff5464" stroke-width="0.9"/>
<circle cx="328.81" cy="80.3" r="3.0" fill="none" stroke="#ff5464" stroke-width="0.9"/>
<circle cx="330.59" cy="80.3" r="3.0" fill="none" stroke="#ff5464" stroke-width="0.9"/>
<circle cx="332.37" cy="80.3" r="3.0" fill="none" stroke="#ff5464" stroke-width="0.9"/>
<circle cx="334.15" cy="80.3" r="3.0" fill="none" stroke="#ff5464" stroke-width="0.9"/>
<circle cx="335.93" cy="80.3" r="3.0" fill="none" stroke="#ff5464" stroke-width="0.9"/>
<circle cx="337.71" cy="80.3" r="3.0" fill="none" stroke="#ff5464" stroke-width="0.9"/>
<circle cx="339.49" cy="80.3" r="3.0" fill="none" stroke="#ff5464" stroke-width="0.9"/>
<circle cx="341.27" cy="80.3" r="3.0" fill="none" stroke="#ff5464" stroke-width="0.9"/>
<circle cx="343.05" cy="80.3" r="3.0" fill="none" stroke="#ff5464" stroke-width="0.9"/>
<circle cx="344.83" cy="80.3" r="3.0" fill="none" stroke="#ff5464" stroke-width="0.9"/>
<circle cx="346.62" cy="80.3" r="3.0" fill="none" stroke="#ff5464" stroke-width="0.9"/>
<circle cx="348.40" cy="80.3" r="3.0" fill="none" stroke="#ff5464" stroke-width="0.9"/>
<circle cx="350.18" cy="80.3" r="3.0" fill="none" stroke="#ff5464" stroke-width="0.9"/>
<circle cx="351.96" cy="80.3" r="3.0" fill="none" stroke="#ff5464" stroke-width="0.9"/>
<circle cx="353.74" cy="80.3" r="3.0" fill="none" stroke="#ff5464" stroke-width="0.9"/>
<circle cx="355.52" cy="80.3" r="3.0" fill="none" stroke="#ff5464" stroke-width="0.9"/>
<circle cx="357.30" cy="80.3" r="3.0" fill="none" stroke="#ff5464" stroke-width="0.9"/>
<circle cx="359.08" cy="80.3" r="3.0" fill="none" stroke="#ff5464" stroke-width="0.9"/>
<circle cx="360.86" cy="80.3" r="3.0" fill="none" stroke="#ff5464" stroke-width="0.9"/>
<circle cx="362.64" cy="80.3" r="3.0" fill="none" stroke="#ff5464" stroke-width="0.9"/>
<circle cx="364.43" cy="80.3" r="3.0" fill="none" stroke="#ff5464" stroke-width="0.9"/>
<circle cx="366.21" cy="80.3" r="3.0" fill="none" stroke="#ff5464" stroke-width="0.9"/>
<circle cx="367.99" cy="80.3" r="3.0" fill="none" stroke="#ff5464" stroke-width="0.9"/>
<circle cx="369.77" cy="80.3" r="3.0" fill="none" stroke="#ff5464" stroke-width="0.9"/>
<circle cx="371.55" cy="80.3" r="3.0" fill="none" stroke="#ff5464" stroke-width="0.9"/>
<circle cx="373.33" cy="80.3" r="3.0" fill="none" stroke="#ff5464" stroke-width="0.9"/>
<circle cx="375.11" cy="80.3" r="3.0" fill="none" stroke="#ff5464" stroke-width="0.9"/>
<circle cx="376.89" cy="80.3" r="3.0" fill="none" stroke="#ff5464" stroke-width="0.9"/>
<circle cx="378.67" cy="80.3" r="3.0" fill="none" stroke="#ff5464" stroke-width="0.9"/>
<circle cx="380.45" cy="80.3" r="3.0" fill="none" stroke="#ff5464" stroke-width="0.9"/>
<circle cx="382.24" cy="80.3" r="3.0" fill="none" stroke="#ff5464" stroke-width="0.9"/>
<circle cx="384.02" cy="80.3" r="3.0" fill="none" stroke="#ff5464" stroke-width="0.9"/>
<circle cx="385.80" cy="80.3" r="3.0" fill="none" stroke="#ff5464" stroke-width="0.9"/>
<circle cx="387.58" cy="80.3" r="3.0" fill="none" stroke="#ff5464" stroke-width="0.9"/>
<circle cx="389.36" cy="80.3" r="3.0" fill="none" stroke="#ff5464" stroke-width="0.9"/>
<circle cx="391.14" cy="80.3" r="3.0" fill="none" stroke="#ff5464" stroke-width="0.9"/>
<circle cx="392.92" cy="80.3" r="3.0" fill="none" stroke="#ff5464" stroke-width="0.9"/>
<circle cx="394.70" cy="80.3" r="3.0" fill="none" stroke="#ff5464" stroke-width="0.9"/>
<circle cx="396.48" cy="80.3" r="3.0" fill="none" stroke="#ff5464" stroke-width="0.9"/>
<circle cx="398.26" cy="80.3" r="3.0" fill="none" stroke="#ff5464" stroke-width="0.9"/>
<circle cx="400.05" cy="80.3" r="3.0" fill="none" stroke="#ff5464" stroke-width="0.9"/>
<circle cx="401.83" cy="80.3" r="3.0" fill="none" stroke="#ff5464" stroke-width="0.9"/>
<circle cx="403.61" cy="80.3" r="3.0" fill="none" stroke="#ff5464" stroke-width="0.9"/>
<circle cx="405.39" cy="80.3" r="3.0" fill="none" stroke="#ff5464" stroke-width="0.9"/>
<circle cx="407.17" cy="80.3" r="3.0" fill="none" stroke="#ff5464" stroke-width="0.9"/>
<circle cx="408.95" cy="80.3" r="3.0" fill="none" stroke="#ff5464" stroke-width="0.9"/>
<circle cx="410.73" cy="80.3" r="3.0" fill="none" stroke="#ff5464" stroke-width="0.9"/>
<circle cx="412.51" cy="80.3" r="3.0" fill="none" stroke="#ff5464" stroke-width="0.9"/>
<circle cx="414.29" cy="80.3" r="3.0" fill="none" stroke="#ff5464" stroke-width="0.9"/>
<circle cx="416.07" cy="80.3" r="3.0" fill="none" stroke="#ff5464" stroke-width="0.9"/>
<circle cx="417.86" cy="80.3" r="3.0" fill="none" stroke="#ff5464" stroke-width="0.9"/>
<circle cx="419.64" cy="80.3" r="3.0" fill="none" stroke="#ff5464" stroke-width="0.9"/>
<circle cx="421.42" cy="80.3" r="3.0" fill="none" stroke="#ff5464" stroke-width="0.9"/>
<circle cx="423.20" cy="80.3" r="3.0" fill="none" stroke="#ff5464" stroke-width="0.9"/>
<circle cx="424.98" cy="80.3" r="3.0" fill="none" stroke="#ff5464" stroke-width="0.9"/>
<circle cx="426.76" cy="80.3" r="3.0" fill="none" stroke="#ff5464" stroke-width="0.9"/>
<circle cx="428.54" cy="80.3" r="3.0" fill="none" stroke="#ff5464" stroke-width="0.9"/>
<circle cx="430.32" cy="80.3" r="3.0" fill="none" stroke="#ff5464" stroke-width="0.9"/>
<circle cx="432.10" cy="80.3" r="3.0" fill="none" stroke="#ff5464" stroke-width="0.9"/>
<circle cx="433.88" cy="80.3" r="3.0" fill="none" stroke="#ff5464" stroke-width="0.9"/>
<circle cx="435.67" cy="80.3" r="3.0" fill="none" stroke="#ff5464" stroke-width="0.9"/>
<circle cx="437.45" cy="80.3" r="3.0" fill="none" stroke="#ff5464" stroke-width="0.9"/>
<circle cx="439.23" cy="80.3" r="3.0" fill="none" stroke="#ff5464" stroke-width="0.9"/>
<circle cx="441.01" cy="80.3" r="3.0" fill="none" stroke="#ff5464" stroke-width="0.9"/>
<circle cx="442.79" cy="80.3" r="3.0" fill="none" stroke="#ff5464" stroke-width="0.9"/>
<circle cx="444.57" cy="80.3" r="3.0" fill="none" stroke="#ff5464" stroke-width="0.9"/>
<circle cx="446.35" cy="80.3" r="3.0" fill="none" stroke="#ff5464" stroke-width="0.9"/>
<circle cx="448.13" cy="80.3" r="3.0" fill="none" stroke="#ff5464" stroke-width="0.9"/>
<circle cx="449.91" cy="80.3" r="3.0" fill="none" stroke="#ff5464" stroke-width="0.9"/>
<circle cx="451.69" cy="80.3" r="3.0" fill="none" stroke="#ff5464" stroke-width="0.9"/>
<circle cx="453.48" cy="80.3" r="3.0" fill="none" stroke="#ff5464" stroke-width="0.9"/>
<circle cx="455.26" cy="80.3" r="3.0" fill="none" stroke="#ff5464" stroke-width="0.9"/>
<circle cx="457.04" cy="80.3" r="3.0" fill="none" stroke="#ff5464" stroke-width="0.9"/>
<circle cx="458.82" cy="80.3" r="3.0" fill="none" stroke="#ff5464" stroke-width="0.9"/>
<circle cx="460.60" cy="80.3" r="3.0" fill="none" stroke="#ff5464" stroke-width="0.9"/>
<polyline points="435.80,40.40 435.80,45.70 441.50,45.70" fill="none" stroke="#b09020" stroke-width="0.9" stroke-linejoin="round" />
<path d="M443,45.7 L440,44.2 L440,47.2 Z" fill="#b09020"/>
<text x="434.00" y="57.20" font-size="8.6" fill="#b09020" text-anchor="start" font-weight="bold" font-family='"Liberation Serif", serif' textLength="11.5" lengthAdjust="spacingAndGlyphs" >CE</text>
<polyline points="307.90,85.70 307.90,91.00 303.50,91.00" fill="none" stroke="#ff5a6a" stroke-width="0.9" stroke-linejoin="round" />
<path d="M302,91 L305,89.5 L305,92.5 Z" fill="#ff5a6a"/>
<text x="297.20" y="103.30" font-size="8.6" fill="#ff5a6a" text-anchor="start" font-weight="bold" font-family='"Liberation Serif", serif' textLength="12.2" lengthAdjust="spacingAndGlyphs" >VC</text>
<text x="251.20" y="79.30" font-size="10" fill="#ff5a6a" text-anchor="middle" font-weight="normal" font-family='"Liberation Sans", sans-serif' transform="rotate(-90 251.20 79.30)" >Volumetric Capacity(Ah L<tspan dy="-4" font-size="6.5">-1</tspan><tspan dy="4">)</tspan></text>
<text x="500.20" y="77.00" font-size="10" fill="#b09020" text-anchor="middle" font-weight="normal" font-family='"Liberation Sans", sans-serif' transform="rotate(-90 500.20 77.00)" >Coulombic Efficiency(%)</text>
<text x="344.30" y="168.80" font-size="10" fill="#222" text-anchor="start" font-weight="normal" font-family='"Liberation Sans", sans-serif' textLength="60.7" lengthAdjust="spacingAndGlyphs" >Cycle Number</text>
<text x="244.60" y="10.80" font-size="12.5" fill="#333" text-anchor="start" font-weight="normal" font-family='"Liberation Sans", sans-serif' textLength="13.8" lengthAdjust="spacingAndGlyphs" >(b)</text>
<line x1="32.30" y1="190.30" x2="220.80" y2="190.30" stroke="#444444" stroke-width="1"/>
<line x1="32.30" y1="249.90" x2="220.80" y2="249.90" stroke="#444444" stroke-width="1"/>
<line x1="32.30" y1="190.30" x2="32.30" y2="249.90" stroke="#3090ff" stroke-width="1"/>
<line x1="220.80" y1="190.30" x2="220.80" y2="249.90" stroke="#909090" stroke-width="1"/>
<line x1="32.40" y1="249.90" x2="32.40" y2="247.20" stroke="#444444" stroke-width="1"/>
<line x1="32.40" y1="190.30" x2="32.40" y2="193.00" stroke="#444444" stroke-width="1"/>
<line x1="49.95" y1="249.90" x2="49.95" y2="248.20" stroke="#444444" stroke-width="1"/>
<line x1="49.95" y1="190.30" x2="49.95" y2="192.00" stroke="#444444" stroke-width="1"/>
<line x1="67.50" y1="249.90" x2="67.50" y2="247.20" stroke="#444444" stroke-width="1"/>
<line x1="67.50" y1="190.30" x2="67.50" y2="193.00" stroke="#444444" stroke-width="1"/>
<line x1="85.05" y1="249.90" x2="85.05" y2="248.20" stroke="#444444" stroke-width="1"/>
<line x1="85.05" y1="190.30" x2="85.05" y2="192.00" stroke="#444444" stroke-width="1"/>
<line x1="102.60" y1="249.90" x2="102.60" y2="247.20" stroke="#444444" stroke-width="1"/>
<line x1="102.60" y1="190.30" x2="102.60" y2="193.00" stroke="#444444" stroke-width="1"/>
<line x1="120.15" y1="249.90" x2="120.15" y2="248.20" stroke="#444444" stroke-width="1"/>
<line x1="120.15" y1="190.30" x2="120.15" y2="192.00" stroke="#444444" stroke-width="1"/>
<line x1="137.70" y1="249.90" x2="137.70" y2="247.20" stroke="#444444" stroke-width="1"/>
<line x1="137.70" y1="190.30" x2="137.70" y2="193.00" stroke="#444444" stroke-width="1"/>
<line x1="155.25" y1="249.90" x2="155.25" y2="248.20" stroke="#444444" stroke-width="1"/>
<line x1="155.25" y1="190.30" x2="155.25" y2="192.00" stroke="#444444" stroke-width="1"/>
<line x1="172.80" y1="249.90" x2="172.80" y2="247.20" stroke="#444444" stroke-width="1"/>
<line x1="172.80" y1="190.30" x2="172.80" y2="193.00" stroke="#444444" stroke-width="1"/>
<line x1="190.35" y1="249.90" x2="190.35" y2="248.20" stroke="#444444" stroke-width="1"/>
<line x1="190.35" y1="190.30" x2="190.35" y2="192.00" stroke="#444444" stroke-width="1"/>
<line x1="207.90" y1="249.90" x2="207.90" y2="247.20" stroke="#444444" stroke-width="1"/>
<line x1="207.90" y1="190.30" x2="207.90" y2="193.00" stroke="#444444" stroke-width="1"/>
<line x1="32.30" y1="196.10" x2="35.00" y2="196.10" stroke="#3090ff" stroke-width="1"/>
<line x1="32.30" y1="203.75" x2="34.00" y2="203.75" stroke="#3090ff" stroke-width="1"/>
<line x1="32.30" y1="211.40" x2="35.00" y2="211.40" stroke="#3090ff" stroke-width="1"/>
<line x1="32.30" y1="219.05" x2="34.00" y2="219.05" stroke="#3090ff" stroke-width="1"/>
<line x1="32.30" y1="226.70" x2="35.00" y2="226.70" stroke="#3090ff" stroke-width="1"/>
<line x1="32.30" y1="234.35" x2="34.00" y2="234.35" stroke="#3090ff" stroke-width="1"/>
<line x1="32.30" y1="242.00" x2="35.00" y2="242.00" stroke="#3090ff" stroke-width="1"/>
<line x1="32.30" y1="249.65" x2="34.00" y2="249.65" stroke="#3090ff" stroke-width="1"/>
<line x1="220.80" y1="189.72" x2="217.80" y2="189.72" stroke="#909090" stroke-width="1"/>
<line x1="220.80" y1="195.58" x2="218.80" y2="195.58" stroke="#909090" stroke-width="1"/>
<line x1="220.80" y1="201.44" x2="217.80" y2="201.44" stroke="#909090" stroke-width="1"/>
<line x1="220.80" y1="207.30" x2="218.80" y2="207.30" stroke="#909090" stroke-width="1"/>
<line x1="220.80" y1="213.16" x2="217.80" y2="213.16" stroke="#909090" stroke-width="1"/>
<line x1="220.80" y1="219.02" x2="218.80" y2="219.02" stroke="#909090" stroke-width="1"/>
<line x1="220.80" y1="224.88" x2="217.80" y2="224.88" stroke="#909090" stroke-width="1"/>
<line x1="220.80" y1="230.74" x2="218.80" y2="230.74" stroke="#909090" stroke-width="1"/>
<line x1="220.80" y1="236.60" x2="217.80" y2="236.60" stroke="#909090" stroke-width="1"/>
<line x1="220.80" y1="242.46" x2="218.80" y2="242.46" stroke="#909090" stroke-width="1"/>
<line x1="220.80" y1="248.32" x2="217.80" y2="248.32" stroke="#909090" stroke-width="1"/>
<text x="29.40" y="199.20" font-size="8.8" fill="#1f80f0" text-anchor="end" font-weight="normal" font-family='"Liberation Sans", sans-serif' textLength="10.9" lengthAdjust="spacingAndGlyphs" >3.5</text>
<text x="29.40" y="214.50" font-size="8.8" fill="#1f80f0" text-anchor="end" font-weight="normal" font-family='"Liberation Sans", sans-serif' textLength="10.9" lengthAdjust="spacingAndGlyphs" >2.8</text>
<text x="29.40" y="229.80" font-size="8.8" fill="#1f80f0" text-anchor="end" font-weight="normal" font-family='"Liberation Sans", sans-serif' textLength="10.9" lengthAdjust="spacingAndGlyphs" >2.1</text>
<text x="29.40" y="245.10" font-size="8.8" fill="#1f80f0" text-anchor="end" font-weight="normal" font-family='"Liberation Sans", sans-serif' textLength="10.9" lengthAdjust="spacingAndGlyphs" >1.4</text>
<text x="223.00" y="192.82" font-size="8.8" fill="#8a8a8a" text-anchor="start" font-weight="normal" font-family='"Liberation Sans", sans-serif' textLength="9.9" lengthAdjust="spacingAndGlyphs" >0.4</text>
<text x="223.00" y="204.54" font-size="8.8" fill="#8a8a8a" text-anchor="start" font-weight="normal" font-family='"Liberation Sans", sans-serif' textLength="9.9" lengthAdjust="spacingAndGlyphs" >0.3</text>
<text x="223.00" y="216.26" font-size="8.8" fill="#8a8a8a" text-anchor="start" font-weight="normal" font-family='"Liberation Sans", sans-serif' textLength="9.9" lengthAdjust="spacingAndGlyphs" >0.2</text>
<text x="223.00" y="227.98" font-size="8.8" fill="#8a8a8a" text-anchor="start" font-weight="normal" font-family='"Liberation Sans", sans-serif' textLength="9.9" lengthAdjust="spacingAndGlyphs" >0.1</text>
<text x="223.00" y="239.70" font-size="8.8" fill="#8a8a8a" text-anchor="start" font-weight="normal" font-family='"Liberation Sans", sans-serif' textLength="9.9" lengthAdjust="spacingAndGlyphs" >0.0</text>
<text x="223.00" y="251.42" font-size="8.8" fill="#8a8a8a" text-anchor="start" font-weight="normal" font-family='"Liberation Sans", sans-serif' textLength="12.8" lengthAdjust="spacingAndGlyphs" >-0.1</text>
<text x="32.40" y="259.00" font-size="8.8" fill="#222" text-anchor="middle" font-weight="normal" font-family='"Liberation Sans", sans-serif' textLength="11.7" lengthAdjust="spacingAndGlyphs" >150</text>
<text x="67.50" y="259.00" font-size="8.8" fill="#222" text-anchor="middle" font-weight="normal" font-family='"Liberation Sans", sans-serif' textLength="11.7" lengthAdjust="spacingAndGlyphs" >300</text>
<text x="102.60" y="259.00" font-size="8.8" fill="#222" text-anchor="middle" font-weight="normal" font-family='"Liberation Sans", sans-serif' textLength="11.7" lengthAdjust="spacingAndGlyphs" >450</text>
<text x="137.70" y="259.00" font-size="8.8" fill="#222" text-anchor="middle" font-weight="normal" font-family='"Liberation Sans", sans-serif' textLength="11.7" lengthAdjust="spacingAndGlyphs" >600</text>
<text x="172.80" y="259.00" font-size="8.8" fill="#222" text-anchor="middle" font-weight="normal" font-family='"Liberation Sans", sans-serif' textLength="11.7" lengthAdjust="spacingAndGlyphs" >750</text>
<text x="207.90" y="259.00" font-size="8.8" fill="#222" text-anchor="middle" font-weight="normal" font-family='"Liberation Sans", sans-serif' textLength="11.7" lengthAdjust="spacingAndGlyphs" >900</text>
<polyline points="36.90,203.20 57.30,200.80 58.30,200.00 59.00,208.40 70.00,210.80 80.00,213.00 89.50,215.20 90.50,216.50 91.20,203.60 100.00,203.00 110.00,202.20 120.00,201.40 124.30,200.20 125.20,207.40 135.00,209.60 145.00,212.20 155.50,215.00 156.30,216.50 157.00,204.80 170.00,203.00 180.00,201.80 188.80,200.20 189.60,206.60 195.00,207.80 199.00,209.00 205.00,212.50 212.00,215.50" fill="none" stroke="#1f80f0" stroke-width="3.2" stroke-linejoin="round" />
<polyline points="37.00,232.40 58.30,232.40 58.30,244.40 91.50,244.40 91.50,232.40 125.00,232.40 125.00,244.30 156.70,244.20 156.70,232.30 189.40,232.30 189.40,244.20 212.20,244.20" fill="none" stroke="#6e6e6e" stroke-width="2.2" stroke-linejoin="round" stroke-linejoin="miter"/>
<line x1="67.00" y1="197.20" x2="178.00" y2="197.20" stroke="#4a9cf0" stroke-width="1.1"/>
<path d="M181.5,197.2 L176.5,195.2 L176.5,199.2 Z" fill="#4a9cf0"/>
<text x="105.70" y="223.50" font-size="8.4" fill="#1f80f0" text-anchor="start" font-weight="bold" font-family='"Liberation Sans", sans-serif' textLength="32.3" lengthAdjust="spacingAndGlyphs" >0.1 M LiI</text>
<line x1="32.00" y1="263.00" x2="218.80" y2="263.00" stroke="#444444" stroke-width="1"/>
<line x1="32.00" y1="322.50" x2="218.80" y2="322.50" stroke="#444444" stroke-width="1"/>
<line x1="32.00" y1="263.00" x2="32.00" y2="322.50" stroke="#d09040" stroke-width="1"/>
<line x1="218.80" y1="263.00" x2="218.80" y2="322.50" stroke="#909090" stroke-width="1"/>
<line x1="32.20" y1="322.50" x2="32.20" y2="319.80" stroke="#444444" stroke-width="1"/>
<line x1="32.20" y1="263.00" x2="32.20" y2="265.70" stroke="#444444" stroke-width="1"/>
<line x1="46.15" y1="322.50" x2="46.15" y2="320.80" stroke="#444444" stroke-width="1"/>
<line x1="46.15" y1="263.00" x2="46.15" y2="264.70" stroke="#444444" stroke-width="1"/>
<line x1="60.10" y1="322.50" x2="60.10" y2="319.80" stroke="#444444" stroke-width="1"/>
<line x1="60.10" y1="263.00" x2="60.10" y2="265.70" stroke="#444444" stroke-width="1"/>
<line x1="74.05" y1="322.50" x2="74.05" y2="320.80" stroke="#444444" stroke-width="1"/>
<line x1="74.05" y1="263.00" x2="74.05" y2="264.70" stroke="#444444" stroke-width="1"/>
<line x1="88.00" y1="322.50" x2="88.00" y2="319.80" stroke="#444444" stroke-width="1"/>
<line x1="88.00" y1="263.00" x2="88.00" y2="265.70" stroke="#444444" stroke-width="1"/>
<line x1="101.95" y1="322.50" x2="101.95" y2="320.80" stroke="#444444" stroke-width="1"/>
<line x1="101.95" y1="263.00" x2="101.95" y2="264.70" stroke="#444444" stroke-width="1"/>
<line x1="115.90" y1="322.50" x2="115.90" y2="319.80" stroke="#444444" stroke-width="1"/>
<line x1="115.90" y1="263.00" x2="115.90" y2="265.70" stroke="#444444" stroke-width="1"/>
<line x1="129.85" y1="322.50" x2="129.85" y2="320.80" stroke="#444444" stroke-width="1"/>
<line x1="129.85" y1="263.00" x2="129.85" y2="264.70" stroke="#444444" stroke-width="1"/>
<line x1="143.80" y1="322.50" x2="143.80" y2="319.80" stroke="#444444" stroke-width="1"/>
<line x1="143.80" y1="263.00" x2="143.80" y2="265.70" stroke="#444444" stroke-width="1"/>
<line x1="157.75" y1="322.50" x2="157.75" y2="320.80" stroke="#444444" stroke-width="1"/>
<line x1="157.75" y1="263.00" x2="157.75" y2="264.70" stroke="#444444" stroke-width="1"/>
<line x1="171.70" y1="322.50" x2="171.70" y2="319.80" stroke="#444444" stroke-width="1"/>
<line x1="171.70" y1="263.00" x2="171.70" y2="265.70" stroke="#444444" stroke-width="1"/>
<line x1="185.65" y1="322.50" x2="185.65" y2="320.80" stroke="#444444" stroke-width="1"/>
<line x1="185.65" y1="263.00" x2="185.65" y2="264.70" stroke="#444444" stroke-width="1"/>
<line x1="199.60" y1="322.50" x2="199.60" y2="319.80" stroke="#444444" stroke-width="1"/>
<line x1="199.60" y1="263.00" x2="199.60" y2="265.70" stroke="#444444" stroke-width="1"/>
<line x1="213.55" y1="322.50" x2="213.55" y2="320.80" stroke="#444444" stroke-width="1"/>
<line x1="213.55" y1="263.00" x2="213.55" y2="264.70" stroke="#444444" stroke-width="1"/>
<line x1="32.00" y1="265.20" x2="34.70" y2="265.20" stroke="#d09040" stroke-width="1"/>
<line x1="32.00" y1="272.39" x2="33.70" y2="272.39" stroke="#d09040" stroke-width="1"/>
<line x1="32.00" y1="279.58" x2="34.70" y2="279.58" stroke="#d09040" stroke-width="1"/>
<line x1="32.00" y1="286.77" x2="33.70" y2="286.77" stroke="#d09040" stroke-width="1"/>
<line x1="32.00" y1="293.96" x2="34.70" y2="293.96" stroke="#d09040" stroke-width="1"/>
<line x1="32.00" y1="301.15" x2="33.70" y2="301.15" stroke="#d09040" stroke-width="1"/>
<line x1="32.00" y1="308.34" x2="34.70" y2="308.34" stroke="#d09040" stroke-width="1"/>
<line x1="32.00" y1="315.53" x2="33.70" y2="315.53" stroke="#d09040" stroke-width="1"/>
<line x1="32.00" y1="322.72" x2="34.70" y2="322.72" stroke="#d09040" stroke-width="1"/>
<line x1="218.80" y1="267.10" x2="216.10" y2="267.10" stroke="#909090" stroke-width="1"/>
<line x1="218.80" y1="273.25" x2="217.10" y2="273.25" stroke="#909090" stroke-width="1"/>
<line x1="218.80" y1="279.40" x2="216.10" y2="279.40" stroke="#909090" stroke-width="1"/>
<line x1="218.80" y1="285.55" x2="217.10" y2="285.55" stroke="#909090" stroke-width="1"/>
<line x1="218.80" y1="291.70" x2="216.10" y2="291.70" stroke="#909090" stroke-width="1"/>
<line x1="218.80" y1="297.85" x2="217.10" y2="297.85" stroke="#909090" stroke-width="1"/>
<line x1="218.80" y1="304.00" x2="216.10" y2="304.00" stroke="#909090" stroke-width="1"/>
<line x1="218.80" y1="310.15" x2="217.10" y2="310.15" stroke="#909090" stroke-width="1"/>
<line x1="218.80" y1="316.30" x2="216.10" y2="316.30" stroke="#909090" stroke-width="1"/>
<text x="29.20" y="268.30" font-size="8.8" fill="#c89040" text-anchor="end" font-weight="normal" font-family='"Liberation Sans", sans-serif' textLength="10.7" lengthAdjust="spacingAndGlyphs" >2.8</text>
<text x="29.20" y="282.68" font-size="8.8" fill="#c89040" text-anchor="end" font-weight="normal" font-family='"Liberation Sans", sans-serif' textLength="10.7" lengthAdjust="spacingAndGlyphs" >2.4</text>
<text x="29.20" y="297.06" font-size="8.8" fill="#c89040" text-anchor="end" font-weight="normal" font-family='"Liberation Sans", sans-serif' textLength="10.7" lengthAdjust="spacingAndGlyphs" >2.0</text>
<text x="29.20" y="311.44" font-size="8.8" fill="#c89040" text-anchor="end" font-weight="normal" font-family='"Liberation Sans", sans-serif' textLength="10.7" lengthAdjust="spacingAndGlyphs" >1.6</text>
<text x="29.20" y="325.82" font-size="8.8" fill="#c89040" text-anchor="end" font-weight="normal" font-family='"Liberation Sans", sans-serif' textLength="10.7" lengthAdjust="spacingAndGlyphs" >1.2</text>
<text x="222.00" y="270.20" font-size="8.8" fill="#8a8a8a" text-anchor="start" font-weight="normal" font-family='"Liberation Sans", sans-serif' textLength="10.3" lengthAdjust="spacingAndGlyphs" >0.6</text>
<text x="222.00" y="282.50" font-size="8.8" fill="#8a8a8a" text-anchor="start" font-weight="normal" font-family='"Liberation Sans", sans-serif' textLength="10.3" lengthAdjust="spacingAndGlyphs" >0.4</text>
<text x="222.00" y="294.80" font-size="8.8" fill="#8a8a8a" text-anchor="start" font-weight="normal" font-family='"Liberation Sans", sans-serif' textLength="10.3" lengthAdjust="spacingAndGlyphs" >0.2</text>
<text x="222.00" y="307.10" font-size="8.8" fill="#8a8a8a" text-anchor="start" font-weight="normal" font-family='"Liberation Sans", sans-serif' textLength="10.3" lengthAdjust="spacingAndGlyphs" >0.0</text>
<text x="222.00" y="319.40" font-size="8.8" fill="#8a8a8a" text-anchor="start" font-weight="normal" font-family='"Liberation Sans", sans-serif' textLength="13.2" lengthAdjust="spacingAndGlyphs" >-0.2</text>
<text x="32.20" y="331.60" font-size="8.2" fill="#222" text-anchor="middle" font-weight="normal" font-family='"Liberation Sans", sans-serif' textLength="3.9" lengthAdjust="spacingAndGlyphs" >0</text>
<text x="60.10" y="331.60" font-size="8.2" fill="#222" text-anchor="middle" font-weight="normal" font-family='"Liberation Sans", sans-serif' textLength="7.8" lengthAdjust="spacingAndGlyphs" >10</text>
<text x="88.00" y="331.60" font-size="8.2" fill="#222" text-anchor="middle" font-weight="normal" font-family='"Liberation Sans", sans-serif' textLength="7.8" lengthAdjust="spacingAndGlyphs" >20</text>
<text x="115.90" y="331.60" font-size="8.2" fill="#222" text-anchor="middle" font-weight="normal" font-family='"Liberation Sans", sans-serif' textLength="7.8" lengthAdjust="spacingAndGlyphs" >30</text>
<text x="143.80" y="331.60" font-size="8.2" fill="#222" text-anchor="middle" font-weight="normal" font-family='"Liberation Sans", sans-serif' textLength="7.8" lengthAdjust="spacingAndGlyphs" >40</text>
<text x="171.70" y="331.60" font-size="8.2" fill="#222" text-anchor="middle" font-weight="normal" font-family='"Liberation Sans", sans-serif' textLength="7.8" lengthAdjust="spacingAndGlyphs" >50</text>
<text x="199.60" y="331.60" font-size="8.2" fill="#222" text-anchor="middle" font-weight="normal" font-family='"Liberation Sans", sans-serif' textLength="7.8" lengthAdjust="spacingAndGlyphs" >60</text>
<polyline points="32.40,277.20 40.00,277.20 40.00,283.40 48.20,283.40 48.20,277.01 56.80,277.01 56.80,283.40 64.80,283.40 64.80,276.81 73.20,276.81 73.20,283.40 81.20,283.40 81.20,276.61 90.00,276.61 90.00,283.40 98.60,283.40 98.60,276.40 107.20,276.40 107.20,283.40 115.00,283.40 115.00,276.20 124.40,276.20 124.40,283.40 132.20,283.40 132.20,276.00 141.60,276.00 141.60,283.40 149.40,283.40 149.40,275.79 157.60,275.79 157.60,283.40 165.60,283.40 165.60,275.60 174.00,275.60 174.00,283.40 182.30,283.40 182.30,275.40 190.20,275.40 190.20,283.40 199.50,283.50 199.50,275.80 204.70,272.60 208.20,270.40 209.00,283.30 217.50,284.20" fill="none" stroke="#c07a18" stroke-width="2.2" stroke-linejoin="round" stroke-linejoin="miter"/>
<polyline points="32.40,298.40 40.00,298.40 40.00,310.80 48.20,310.80 48.20,298.40 56.80,298.40 56.80,310.80 64.80,310.80 64.80,298.40 73.20,298.40 73.20,310.80 81.20,310.80 81.20,298.40 90.00,298.40 90.00,310.80 98.60,310.80 98.60,298.40 107.20,298.40 107.20,310.80 115.00,310.80 115.00,298.40 124.40,298.40 124.40,310.80 132.20,310.80 132.20,298.40 141.60,298.40 141.60,310.80 149.40,310.80 149.40,298.40 157.60,298.40 157.60,310.80 165.60,310.80 165.60,298.40 174.00,298.40 174.00,310.80 182.30,310.80 182.30,298.40 190.20,298.40 190.20,310.80 199.50,310.80 199.50,298.40 208.60,298.40 208.60,310.80 217.50,310.80" fill="none" stroke="#6e6e6e" stroke-width="2.2" stroke-linejoin="round" stroke-linejoin="miter"/>
<line x1="58.00" y1="269.40" x2="175.00" y2="269.40" stroke="#c88a3a" stroke-width="1.3"/>
<path d="M178.5,269.4 L173.5,267.2 L173.5,271.6 Z" fill="#c88a3a"/>
<text x="101.00" y="294.20" font-size="8.2" fill="#b08020" text-anchor="start" font-weight="bold" font-family='"Liberation Sans", sans-serif' textLength="37" lengthAdjust="spacingAndGlyphs" >0.05 M PS</text>
<text x="89.50" y="344.70" font-size="12.4" fill="#222" text-anchor="start" font-weight="normal" font-family='"Liberation Sans", sans-serif' textLength="70.7" lengthAdjust="spacingAndGlyphs" >Time  (Hours)</text>
<text x="11.60" y="257.40" font-size="12.2" fill="#222" text-anchor="middle" font-weight="normal" font-family='"Liberation Sans", sans-serif' transform="rotate(-90 11.60 257.40)" >Potential(V)</text>
<text x="246.60" y="255.00" font-size="12.2" fill="#8a8a8a" text-anchor="middle" font-weight="normal" font-family='"Liberation Sans", sans-serif' transform="rotate(-90 246.60 255.00)" >Current (mA cm<tspan dy="-4.3" font-size="7.8">-2</tspan><tspan dy="4.3">)</tspan></text>
<text x="3.40" y="208.40" font-size="12.5" fill="#333" text-anchor="start" font-weight="normal" font-family='"Liberation Sans", sans-serif' textLength="13.0" lengthAdjust="spacingAndGlyphs" >(c)</text>
<text x="246.30" y="207.60" font-size="12.5" fill="#333" text-anchor="start" font-weight="normal" font-family='"Liberation Sans", sans-serif' textLength="14.2" lengthAdjust="spacingAndGlyphs" >(d)</text>
<line x1="294.60" y1="186.90" x2="490.60" y2="186.90" stroke="#444444" stroke-width="1"/>
<line x1="294.60" y1="315.20" x2="490.60" y2="315.20" stroke="#444444" stroke-width="1"/>
<line x1="294.60" y1="186.90" x2="294.60" y2="315.20" stroke="#ff5060" stroke-width="1"/>
<line x1="490.60" y1="186.90" x2="490.60" y2="315.20" stroke="#909090" stroke-width="1"/>
<line x1="298.40" y1="315.20" x2="298.40" y2="313.50" stroke="#444444" stroke-width="1"/>
<line x1="298.40" y1="186.90" x2="298.40" y2="188.60" stroke="#444444" stroke-width="1"/>
<line x1="314.40" y1="315.20" x2="314.40" y2="312.50" stroke="#444444" stroke-width="1"/>
<line x1="314.40" y1="186.90" x2="314.40" y2="189.60" stroke="#444444" stroke-width="1"/>
<line x1="330.40" y1="315.20" x2="330.40" y2="313.50" stroke="#444444" stroke-width="1"/>
<line x1="330.40" y1="186.90" x2="330.40" y2="188.60" stroke="#444444" stroke-width="1"/>
<line x1="346.40" y1="315.20" x2="346.40" y2="312.50" stroke="#444444" stroke-width="1"/>
<line x1="346.40" y1="186.90" x2="346.40" y2="189.60" stroke="#444444" stroke-width="1"/>
<line x1="362.40" y1="315.20" x2="362.40" y2="313.50" stroke="#444444" stroke-width="1"/>
<line x1="362.40" y1="186.90" x2="362.40" y2="188.60" stroke="#444444" stroke-width="1"/>
<line x1="378.40" y1="315.20" x2="378.40" y2="312.50" stroke="#444444" stroke-width="1"/>
<line x1="378.40" y1="186.90" x2="378.40" y2="189.60" stroke="#444444" stroke-width="1"/>
<line x1="394.40" y1="315.20" x2="394.40" y2="313.50" stroke="#444444" stroke-width="1"/>
<line x1="394.40" y1="186.90" x2="394.40" y2="188.60" stroke="#444444" stroke-width="1"/>
<line x1="410.40" y1="315.20" x2="410.40" y2="312.50" stroke="#444444" stroke-width="1"/>
<line x1="410.40" y1="186.90" x2="410.40" y2="189.60" stroke="#444444" stroke-width="1"/>
<line x1="426.40" y1="315.20" x2="426.40" y2="313.50" stroke="#444444" stroke-width="1"/>
<line x1="426.40" y1="186.90" x2="426.40" y2="188.60" stroke="#444444" stroke-width="1"/>
<line x1="442.40" y1="315.20" x2="442.40" y2="312.50" stroke="#444444" stroke-width="1"/>
<line x1="442.40" y1="186.90" x2="442.40" y2="189.60" stroke="#444444" stroke-width="1"/>
<line x1="458.40" y1="315.20" x2="458.40" y2="313.50" stroke="#444444" stroke-width="1"/>
<line x1="458.40" y1="186.90" x2="458.40" y2="188.60" stroke="#444444" stroke-width="1"/>
<line x1="474.40" y1="315.20" x2="474.40" y2="312.50" stroke="#444444" stroke-width="1"/>
<line x1="474.40" y1="186.90" x2="474.40" y2="189.60" stroke="#444444" stroke-width="1"/>
<line x1="490.40" y1="315.20" x2="490.40" y2="313.50" stroke="#444444" stroke-width="1"/>
<line x1="490.40" y1="186.90" x2="490.40" y2="188.60" stroke="#444444" stroke-width="1"/>
<line x1="294.60" y1="189.80" x2="296.30" y2="189.80" stroke="#ff5060" stroke-width="1"/>
<line x1="294.60" y1="203.70" x2="297.30" y2="203.70" stroke="#ff5060" stroke-width="1"/>
<line x1="294.60" y1="217.60" x2="296.30" y2="217.60" stroke="#ff5060" stroke-width="1"/>
<line x1="294.60" y1="231.50" x2="297.30" y2="231.50" stroke="#ff5060" stroke-width="1"/>
<line x1="294.60" y1="245.40" x2="296.30" y2="245.40" stroke="#ff5060" stroke-width="1"/>
<line x1="294.60" y1="259.30" x2="297.30" y2="259.30" stroke="#ff5060" stroke-width="1"/>
<line x1="294.60" y1="273.20" x2="296.30" y2="273.20" stroke="#ff5060" stroke-width="1"/>
<line x1="294.60" y1="287.10" x2="297.30" y2="287.10" stroke="#ff5060" stroke-width="1"/>
<line x1="294.60" y1="301.00" x2="296.30" y2="301.00" stroke="#ff5060" stroke-width="1"/>
<line x1="294.60" y1="314.90" x2="297.30" y2="314.90" stroke="#ff5060" stroke-width="1"/>
<line x1="490.60" y1="204.50" x2="487.90" y2="204.50" stroke="#909090" stroke-width="1"/>
<line x1="490.60" y1="222.95" x2="488.90" y2="222.95" stroke="#909090" stroke-width="1"/>
<line x1="490.60" y1="241.40" x2="487.90" y2="241.40" stroke="#909090" stroke-width="1"/>
<line x1="490.60" y1="259.85" x2="488.90" y2="259.85" stroke="#909090" stroke-width="1"/>
<line x1="490.60" y1="278.30" x2="487.90" y2="278.30" stroke="#909090" stroke-width="1"/>
<line x1="490.60" y1="296.75" x2="488.90" y2="296.75" stroke="#909090" stroke-width="1"/>
<line x1="490.60" y1="315.20" x2="487.90" y2="315.20" stroke="#909090" stroke-width="1"/>
<text x="290.70" y="206.80" font-size="9.0" fill="#ff5060" text-anchor="end" font-weight="normal" font-family='"Liberation Sans", sans-serif' textLength="10.4" lengthAdjust="spacingAndGlyphs" >1.0</text>
<text x="290.70" y="234.60" font-size="9.0" fill="#ff5060" text-anchor="end" font-weight="normal" font-family='"Liberation Sans", sans-serif' textLength="10.4" lengthAdjust="spacingAndGlyphs" >0.5</text>
<text x="290.70" y="262.40" font-size="9.0" fill="#ff5060" text-anchor="end" font-weight="normal" font-family='"Liberation Sans", sans-serif' textLength="10.4" lengthAdjust="spacingAndGlyphs" >0.0</text>
<text x="290.70" y="290.20" font-size="9.0" fill="#ff5060" text-anchor="end" font-weight="normal" font-family='"Liberation Sans", sans-serif' textLength="13.3" lengthAdjust="spacingAndGlyphs" >-0.5</text>
<text x="290.70" y="318.00" font-size="9.0" fill="#ff5060" text-anchor="end" font-weight="normal" font-family='"Liberation Sans", sans-serif' textLength="13.3" lengthAdjust="spacingAndGlyphs" >-1.0</text>
<text x="494.50" y="207.60" font-size="9.0" fill="#8a8a8a" text-anchor="start" font-weight="normal" font-family='"Liberation Sans", sans-serif' textLength="10.4" lengthAdjust="spacingAndGlyphs" >0.4</text>
<text x="494.50" y="244.50" font-size="9.0" fill="#8a8a8a" text-anchor="start" font-weight="normal" font-family='"Liberation Sans", sans-serif' textLength="10.4" lengthAdjust="spacingAndGlyphs" >0.2</text>
<text x="494.50" y="281.40" font-size="9.0" fill="#8a8a8a" text-anchor="start" font-weight="normal" font-family='"Liberation Sans", sans-serif' textLength="10.4" lengthAdjust="spacingAndGlyphs" >0.0</text>
<text x="494.50" y="318.30" font-size="9.0" fill="#8a8a8a" text-anchor="start" font-weight="normal" font-family='"Liberation Sans", sans-serif' textLength="13.3" lengthAdjust="spacingAndGlyphs" >-0.2</text>
<text x="314.40" y="325.00" font-size="9.0" fill="#222" text-anchor="middle" font-weight="normal" font-family='"Liberation Sans", sans-serif' textLength="8.0" lengthAdjust="spacingAndGlyphs" >50</text>
<text x="346.40" y="325.00" font-size="9.0" fill="#222" text-anchor="middle" font-weight="normal" font-family='"Liberation Sans", sans-serif' textLength="12.0" lengthAdjust="spacingAndGlyphs" >100</text>
<text x="378.40" y="325.00" font-size="9.0" fill="#222" text-anchor="middle" font-weight="normal" font-family='"Liberation Sans", sans-serif' textLength="12.0" lengthAdjust="spacingAndGlyphs" >150</text>
<text x="410.40" y="325.00" font-size="9.0" fill="#222" text-anchor="middle" font-weight="normal" font-family='"Liberation Sans", sans-serif' textLength="12.0" lengthAdjust="spacingAndGlyphs" >200</text>
<text x="442.40" y="325.00" font-size="9.0" fill="#222" text-anchor="middle" font-weight="normal" font-family='"Liberation Sans", sans-serif' textLength="12.0" lengthAdjust="spacingAndGlyphs" >250</text>
<text x="474.40" y="325.00" font-size="9.0" fill="#222" text-anchor="middle" font-weight="normal" font-family='"Liberation Sans", sans-serif' textLength="12.0" lengthAdjust="spacingAndGlyphs" >300</text>
<polyline points="295.00,210.70 297.90,207.30 304.00,208.20 310.50,208.90 311.60,214.70 312.20,209.00 320.00,207.80 330.00,206.00 337.20,204.40 339.80,203.40 340.40,212.60 345.10,214.70 353.00,216.30 359.30,218.60 362.50,221.60 364.60,224.50 365.40,242.20 365.90,242.20 366.30,210.70 370.00,210.00 383.60,207.60 390.70,204.80 392.30,203.40 392.70,210.00 396.20,212.30 407.20,215.50 413.50,217.80 415.00,220.20 415.70,242.20 416.20,242.20 416.70,213.10 426.10,210.00 440.00,203.40 440.70,210.80 445.80,213.90 453.70,217.10 457.60,220.20 459.40,224.00 459.90,243.10 460.40,243.10 460.80,213.10 469.40,209.20 478.90,206.00 481.50,203.40 482.00,212.30 484.40,214.70 485.40,216.30 488.40,242.30" fill="none" stroke="#ff3c48" stroke-width="2.9" stroke-linejoin="round" />
<polyline points="295.00,262.40 340.20,262.40 340.20,295.40 366.20,295.40 366.30,262.40 392.30,262.40 392.30,295.40 416.40,295.40 416.40,262.40 440.40,262.40 440.40,295.40 460.50,295.40 460.50,262.40 482.30,262.40 482.30,295.40 490.60,295.40" fill="none" stroke="#6e6e6e" stroke-width="2.2" stroke-linejoin="round" stroke-linejoin="miter"/>
<line x1="328.50" y1="197.00" x2="460.00" y2="197.00" stroke="#ff6070" stroke-width="1.4"/>
<path d="M464,197.0 L459,194.8 L459,199.2 Z" fill="#ff6070"/>
<text x="354.50" y="253.20" font-size="8.6" fill="#b08a18" text-anchor="start" font-weight="bold" font-family='"Liberation Sans", sans-serif' textLength="35.3" lengthAdjust="spacingAndGlyphs" >0.5 M PS</text>
<text x="392.50" y="253.20" font-size="8.6" fill="#222" text-anchor="start" font-weight="bold" font-family='"Liberation Sans", sans-serif' >-</text>
<text x="397.50" y="253.20" font-size="8.6" fill="#2090f0" text-anchor="start" font-weight="bold" font-family='"Liberation Sans", sans-serif' textLength="39.1" lengthAdjust="spacingAndGlyphs" >0.05 M LiI</text>
<text x="362.40" y="336.80" font-size="11.6" fill="#222" text-anchor="start" font-weight="normal" font-family='"Liberation Sans", sans-serif' textLength="65.8" lengthAdjust="spacingAndGlyphs" >Time (Hours)</text>
<text x="275.20" y="245.30" font-size="11.6" fill="#ff5060" text-anchor="middle" font-weight="normal" font-family='"Liberation Sans", sans-serif' transform="rotate(-90 275.20 245.30)" >Potential (V)</text>
<text x="518.40" y="248.30" font-size="9.7" fill="#8a8a8a" text-anchor="middle" font-weight="normal" font-family='"Liberation Sans", sans-serif' transform="rotate(-90 518.40 248.30)" >Current (mA cm<tspan dy="-3.8" font-size="6.5">-2</tspan><tspan dy="3.8"> )</tspan></text>
</svg>
</body></html>
